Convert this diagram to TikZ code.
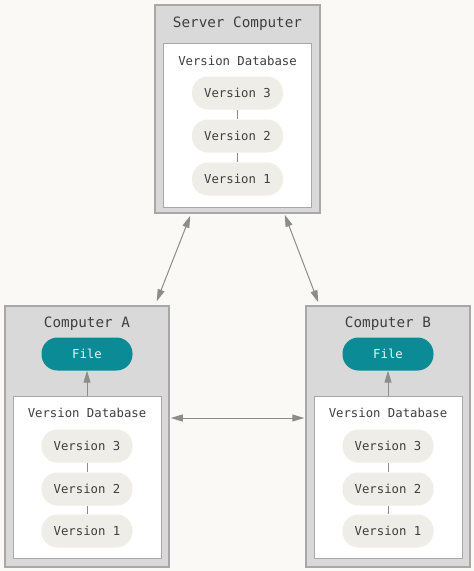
\documentclass[tikz,border=0pt]{standalone}
\usepackage{fontspec}
\setmonofont{DejaVu Sans Mono}
\usetikzlibrary{arrows.meta,positioning,calc}
\definecolor{gBack}{HTML}{FAF9F6}
\definecolor{gBox}{HTML}{D9D9D9}
\definecolor{gEdge}{HTML}{A8A8A8}
\definecolor{gPill}{HTML}{EEEDE7}
\definecolor{gTeal}{HTML}{0B8B95}
\definecolor{gText}{HTML}{3F3F3F}
\definecolor{gArrow}{HTML}{8E8C88}

\begin{document}
\begin{tikzpicture}[x=1pt,y=-1pt,
  machine/.style={draw=gEdge,fill=gBox,line width=1.5pt,inner sep=0pt},
  database/.style={draw=gEdge,fill=white,line width=1pt,inner sep=0pt,minimum width=148pt},
  title/.style={text=gText,font=\ttfamily\fontsize{14.3}{16}\selectfont},
  dblabel/.style={text=gText,font=\ttfamily\fontsize{12.3}{14}\selectfont},
  version/.style={fill=gPill,rounded corners=16pt,minimum width=91pt,minimum height=33pt,
    inner sep=0pt,text=gText,font=\ttfamily\fontsize{12.3}{14}\selectfont},
  workfile/.style={version,fill=gTeal,text=white!90!gTeal},
  link/.style={draw=gArrow,line width=0.8pt},
  sync/.style={draw=gArrow,line width=1pt,{Triangle[length=12pt,width=7pt]}-{Triangle[length=12pt,width=7pt]}},
  checkout/.style={draw=gArrow,line width=1pt,-{Triangle[length=12pt,width=7pt]}}]
  \fill[gBack] (0,0) rectangle (474,571);
  \useasboundingbox (0,0) rectangle (474,571);
  % ---- Server ----
  \node[machine,minimum width=165pt,minimum height=208pt] (server) at (237.5,109) {};
  \node[database,minimum height=164pt] (serverdb) at (237,125) {};
  \node[title] (serverlbl) at (237.5,24) {Server Computer};
  \node[dblabel] (serverdblbl) at (237.5,61) {Version Database};
  \node[version] (s3) at (237.5,93) {Version 3};
  \node[version] (s2) at (237.5,136) {Version 2};
  \node[version] (s1) at (237.5,179) {Version 1};
  \draw[link] (s3) -- (s2);
  \draw[link] (s2) -- (s1);
  % ---- Computer A ----
  \node[machine,minimum width=164pt,minimum height=261pt] (compA) at (87,436.5) {};
  \node[database,minimum height=162pt] (dbA) at (87,477) {};
  \node[title] (compAlbl) at (87,324) {Computer A};
  \node[workfile] (fileA) at (87,354) {File};
  \node[dblabel] (dbAlbl) at (87,413) {Version Database};
  \node[version] (a3) at (87,446) {Version 3};
  \node[version] (a2) at (87,489) {Version 2};
  \node[version] (a1) at (87,531) {Version 1};
  \draw[link] (a3) -- (a2);
  \draw[link] (a2) -- (a1);
  \draw[checkout] (dbA.north) -- (fileA.south);
  % ---- Computer B ----
  \node[machine,minimum width=164pt,minimum height=261pt] (compB) at (388,436.5) {};
  \node[database,minimum height=162pt] (dbB) at (388,477) {};
  \node[title] (compBlbl) at (388,324) {Computer B};
  \node[workfile] (fileB) at (388,354) {File};
  \node[dblabel] (dbBlbl) at (388,413) {Version Database};
  \node[version] (b3) at (388,446) {Version 3};
  \node[version] (b2) at (388,489) {Version 2};
  \node[version] (b1) at (388,531) {Version 1};
  \draw[link] (b3) -- (b2);
  \draw[link] (b2) -- (b1);
  \draw[checkout] (dbB.north) -- (fileB.south);
  % ---- sync arrows ----
  \draw[sync] ([xshift=36pt,yshift=-2pt]server.south west) -- ([xshift=-13pt,yshift=4pt]compA.north east);
  \draw[sync] ([xshift=-36pt,yshift=-1pt]server.south east) -- ([xshift=13pt,yshift=3pt]compB.north west);
  \draw[sync] ([xshift=1pt,yshift=18.5pt]compA.east) -- ([xshift=-1pt,yshift=18.5pt]compB.west);
\end{tikzpicture}
\end{document}
